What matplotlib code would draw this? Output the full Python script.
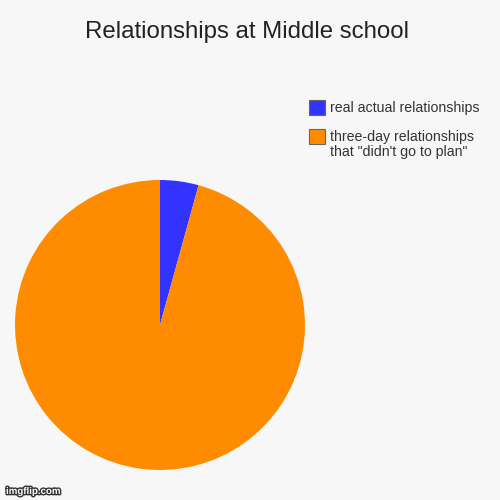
import matplotlib
matplotlib.use("Agg")
import matplotlib.pyplot as plt
import matplotlib.patheffects as pe
import matplotlib.patches as mpatches

categories = ["real actual relationships", "three-day relationships\nthat \"didn't go to plan\""]
values = [3, 67]
colors = ["#3333FF", "#FF8C00"]
title = "Relationships at Middle school"

plt.rcParams['font.family'] = ['Liberation Sans', 'DejaVu Sans']
W = H = 500
fig = plt.figure(figsize=(5, 5), dpi=100, facecolor="#F7F7F7")
ax = fig.add_axes([15/W, 30/H, 290/W, 290/H])
ax.set_facecolor("#F7F7F7")
wedges, _ = ax.pie(values, colors=colors, startangle=90, counterclock=False,
                   radius=1, wedgeprops=dict(linewidth=0))
ax.set_xlim(-1, 1)
ax.set_ylim(-1, 1)
ax.set_aspect('equal')
ax.axis('off')

fig.text(247/W, 1 - 32/H, title, ha='center', va='center', fontsize=17.3, color='#222222')

# legend drawn manually
box_tops = [100, 129]
for i, (c, lab) in enumerate(zip(colors, categories)):
    top = box_tops[i]
    fig.add_artist(mpatches.Rectangle((309/W, 1 - (top + 15)/H), 16/W, 15/H,
                                      facecolor=c, edgecolor='#666666', linewidth=0.8,
                                      transform=fig.transFigure))
    lines = lab.split("\n")
    for j, line in enumerate(lines):
        fig.text(330/W, 1 - (top + 8 + 15 * j)/H, line, ha='left', va='center',
                 fontsize=10.2, color='#333333')

fig.text(6/W, 6/H, "imgflip.com", fontsize=7, color='white', fontweight='bold',
         path_effects=[pe.withStroke(linewidth=2, foreground='#333333')])

fig.savefig("out.png", dpi=100, facecolor=fig.get_facecolor())
